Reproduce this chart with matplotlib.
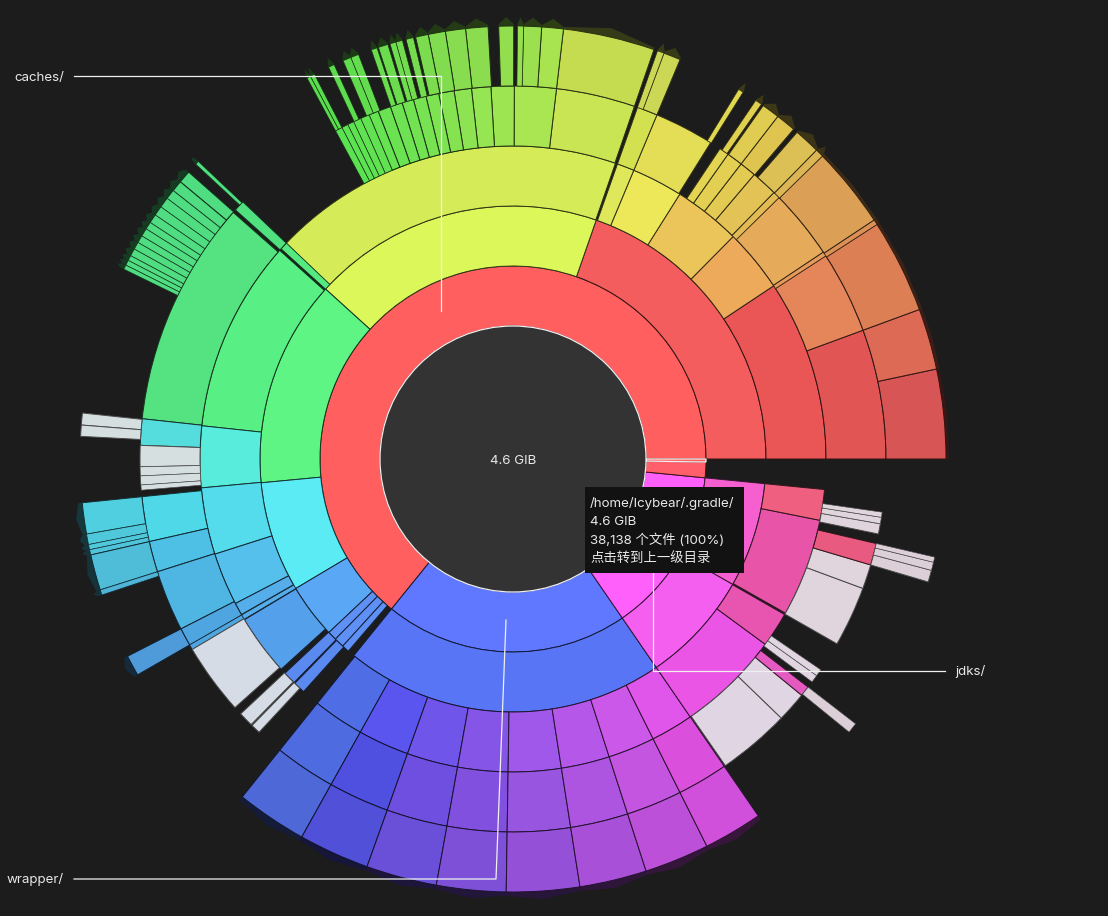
import matplotlib
matplotlib.use("Agg")
import matplotlib.pyplot as plt
from matplotlib.patches import Wedge, Circle, Polygon, Rectangle
from matplotlib.colors import to_rgb
import numpy as np

plt.rcParams['font.family'] = ['Inter', 'Noto Sans CJK SC', 'DejaVu Sans']

# angles, degrees counter clockwise from east
fan_edges = [231.3, 240.8, 250.3, 259.8, 269.1, 278.9, 287.9, 296.6, 304.5]
fan_spans = list(zip(fan_edges[:-1], fan_edges[1:]))

ring_a_spans = [(0, 231), (231, 304.5), (304.5, 354.4), (354.4, 359.1), (359.1, 360)]
ring_a_colors = ["#ff5f5f", "#5f78ff", "#ff5ffb", "#ff5f6a", "#ff5f5f"]

ring_b_spans = [(0, 70.8), (70.8, 137.8), (137.8, 185.4), (185.4, 210.8), (210.8, 223.3),
                (223.3, 225.4), (225.4, 227.7), (227.7, 229.4), (231, 304.5), (304.5, 330.3), (330.3, 354.4)]
ring_b_colors = ["#f35d5d", "#dcf75a", "#5ff585", "#5aebf5", "#5aa8f5",
                 "#5f90f5", "#5f90f5", "#5f90f5", "#5875f5", "#f55ff0", "#f55fd0"]

ring_c_spans = [(0, 33.6), (33.6, 45.3), (45.3, 57.8), (57.8, 67.3), (67.3, 70.5), (70.9, 136.4),
                (136.4, 137.8), (138.2, 173.9), (173.9, 185.3), (185.3, 197.7), (197.7, 207.5),
                (207.5, 209.8), (209.9, 210.8), (210.9, 222.2), (223.2, 225.6), (225.8, 228)] + fan_spans + [
                (304.5, 323.7), (323.7, 330.2), (330.5, 348.7), (348.7, 354.4)]
ring_c_colors = ["#ea5656", "#ecaa5a", "#ebc55a", "#ece85a", "#dfe85a", "#d5ec58",
                 "#55ea80", "#58ef85", "#58ecdc", "#55dcec", "#55c0ec",
                 "#55aeea", "#55aeea", "#55a0ea", "#5a8aef", "#5a8aef",
                 "#4f6ee5", "#5a55ee", "#7055ea", "#8555e8", "#9f58ea", "#b558ea", "#cc58ea", "#e055ea",
                 "#ea55e6", "#e855b0", "#e855a8", "#ef5f80"]

green_d_edges = [83.3, 89.8, 93.4, 96.4, 99.1, 101.5, 103.5, 105.5, 107.3, 109.2, 111.2, 112.7, 114.1, 115.3, 116.3, 117.3, 118.4]
green_d_colors = ["#aae552", "#9ee552", "#96e552", "#8de352", "#85e352", "#7de352", "#78e352", "#72e252",
                  "#6ee252", "#6ae252", "#66e252", "#62e252", "#60e252", "#5ee252", "#5ce252", "#5ae252"]

ring_d_spans = [(0, 20.2), (20.2, 33), (33, 33.7), (33.7, 44.5), (44.5, 45.6), (45.6, 49.7), (49.7, 52.3),
                (52.3, 54.8), (54.8, 56.3), (58, 67.3), (67.3, 70.5), (71, 83.3)] + list(zip(green_d_edges[:-1], green_d_edges[1:])) + [
                (136.4, 138.1), (138.6, 173.8), (173.8, 177.9), (177.9, 181.2), (181.2, 182.6), (182.6, 184),
                (184, 184.8), (185.8, 192.8), (192.8, 197.6), (197.6, 207.1), (207.1, 209.9), (209.9, 210.7),
                (210.7, 221.8), (223.1, 225.4), (225.6, 227.1)] + fan_spans + [
                (304.7, 316), (316, 320.7), (320.7, 322.3), (323.3, 324.5), (324.5, 325.6),
                (330.3, 339.7), (339.7, 343.5), (343.5, 346.9), (348.4, 350), (350, 351), (351, 351.8)]
ring_d_colors = ["#e25555", "#e5855a", "#e59a5a", "#e5aa5a", "#e3bb55", "#e3c355", "#e3ca52",
                 "#e3d052", "#e3d452", "#e3de55", "#d3e050", "#c9e553"] + green_d_colors + [
                 "#50e07f", "#55e280", "#55dcdc", "#d5dfe0", "#d5dfe0", "#d5dfe0",
                 "#d5dfe0", "#4fd8e8", "#4fc0e5", "#4fb5e2", "#4fa5e0", "#4fa5e0",
                 "#d5dce5", "#d5dce5", "#d5dce5",
                 "#4f6be0", "#4f50e0", "#6e4fdf", "#8250df", "#9855e0", "#ad55e0", "#c355e0", "#da50dc",
                 "#e0d5e2", "#e0d5e2", "#e55ac0", "#e0d5e0", "#e0d5e0",
                 "#e0d5dc", "#e0d5dc", "#e85a80", "#e0d5dc", "#e0d5dc", "#e0d5dc"]

green_e_spans = [(83.3, 86.2), (86.2, 88.6), (88.6, 89.4), (89.9, 91.9), (93.3, 96.3), (96.3, 99), (99, 101.3),
                 (101.3, 103), (103.3, 104.3), (104.8, 105.7), (105.7, 106.5), (106.8, 108.1), (108.3, 109.1),
                 (110.9, 112), (112, 113.1), (114.4, 115.2), (117.3, 117.9), (117.9, 118.4)]
green_e_colors = ["#a8e44f", "#9ae04f", "#94e04f", "#92de4f", "#8cdc4f", "#88dc4f", "#82dc4f",
                  "#7cdc4f", "#76dc4f", "#72dc4f", "#70dc4f", "#6cdc4f", "#6adc4f",
                  "#64dc4f", "#62dc4f", "#5edc4f", "#5adc4f", "#5adc4f"]

teal_edges = [138.5, 140.2, 141.7, 143, 144.4, 145.7, 146.9, 147.9, 149, 150, 151, 152, 152.7, 153.4, 154]

ring_e_spans = [(0, 12), (12, 20.2), (20.2, 32.8), (32.8, 33.5), (33.5, 44.4), (44.4, 45.5), (45.5, 49),
                (49.6, 52.3), (52.3, 54.7), (55, 55.9), (57.9, 58.6), (67.3, 69.6), (69.6, 70.5), (71, 83.3)] + green_e_spans + [
                (136.6, 137.1)] + list(zip(teal_edges[:-1], teal_edges[1:])) + [
                (173.9, 175.5), (175.5, 177), (185.8, 190), (190, 191.4), (191.4, 192.1), (192.1, 192.8),
                (192.8, 197.6), (197.6, 198.3), (207.1, 209.9)] + fan_spans + [
                (320.9, 322.3), (343.5, 345.1), (345.1, 346.2), (346.2, 346.9)]
ring_e_colors = ["#d85555", "#dd6a55", "#dd7f55", "#dc9055", "#dba055", "#dcb555", "#dcc055",
                 "#dfc550", "#e0cc50", "#dfd050", "#dfd850", "#ccd855", "#ccd855", "#c5dc50"] + green_e_colors + [
                 "#50e080"] + ["#50dc80"] * (len(teal_edges) - 1) + [
                 "#d5dfe0", "#d5dfe0", "#4fcfdf", "#4fc8dc", "#4fc8dc", "#4fc4da",
                 "#4fbcd8", "#4fb4d8", "#4f9ad8",
                 "#4f68d8", "#5050d8", "#6a50d8", "#7e50d8", "#9550d8", "#a850d8", "#bc50d8", "#d050dc",
                 "#dccfd8", "#dccfd8", "#dccfd8", "#dccfd8"]

tooltip_lines = ["/home/Icybear/.gradle/", "4.6 GIB", "38,138 个文件 (100%)", "点击转到上一级目录"]
guide_labels = ["caches/", "wrapper/", "jdks/"]
total_label = "4.6 GIB"

BG = "#1c1c1c"
CX, CY = 513, 459
ring_width = 60
ring_starts = [133, 193, 253, 313, 373]


def px(x, y):
    return x - CX, CY - y


def darker(color, k):
    return tuple(c * k for c in to_rgb(color))


def draw_ring(ax, spans, colors, r0):
    for (a, b), col in zip(spans, colors, strict=True):
        light = min(to_rgb(col)) > 0.7
        edge = "#4a4a4a" if light else darker(col, 0.22)
        lw = 0.45 if b - a < 1.5 else 0.7
        ax.add_patch(Wedge((0, 0), r0 + ring_width, a, b, width=ring_width, facecolor=col,
                           edgecolor=edge, linewidth=lw, zorder=3))


def draw_shadow(ax, spans, colors, r0):
    # the dark lumps just outside the last ring
    for (a, b), col in zip(spans, colors):
        if min(to_rgb(col)) > 0.7:
            continue
        mid = (a + b) / 2
        if a < 40:
            flat, h = 3, 0.5
        elif a < 120:
            flat, h = 2, 7
        else:
            flat, h = 4, 4
        t = np.radians([a, mid, b])
        r = np.array([r0 + flat, r0 + flat + h, r0 + flat])
        pts = [(r0 * np.cos(t[0]), r0 * np.sin(t[0]))] + list(zip(r * np.cos(t), r * np.sin(t))) + [
            (r0 * np.cos(t[2]), r0 * np.sin(t[2]))]
        ax.add_patch(Polygon(pts, closed=True, facecolor=darker(col, 0.27), edgecolor="none", zorder=2))


fig = plt.figure(figsize=(11.08, 9.16), dpi=100, facecolor=BG)
ax = fig.add_axes([0, 0, 1, 1])
ax.set_xlim(-CX, 1108 - CX)
ax.set_ylim(CY - 916, CY)
ax.axis("off")

draw_shadow(ax, ring_e_spans, ring_e_colors, ring_starts[4] + ring_width)

draw_ring(ax, ring_a_spans[:-1], ring_a_colors[:-1], ring_starts[0])
draw_ring(ax, ring_b_spans, ring_b_colors, ring_starts[1])
draw_ring(ax, ring_c_spans, ring_c_colors, ring_starts[2])
draw_ring(ax, ring_d_spans, ring_d_colors, ring_starts[3])
draw_ring(ax, ring_e_spans, ring_e_colors, ring_starts[4])

# hovered slice has a white outline
a, b = ring_a_spans[-1]
ax.add_patch(Wedge((0, 0), ring_starts[0] + ring_width, a, b, width=ring_width, facecolor=ring_a_colors[-1],
                   edgecolor="#f0f0f0", linewidth=0.9, zorder=4))

ax.add_patch(Circle((0, 0), ring_starts[0], facecolor="#333333", edgecolor="#f0f0f0", linewidth=0.9, zorder=4))
ax.text(0, -1.5, total_label, color="#e8e8e8", fontsize=9.6, ha="center", va="center", zorder=5)

# guide lines
line_kw = dict(color="#f0f0f0", linewidth=0.9, zorder=6)
for path in ([(74, 76), (441, 76), (441, 311)],
             [(74, 879), (496, 879), (506, 620)],
             [(945, 671), (653, 671), (653, 560)]):
    xy = [px(*p) for p in path]
    ax.plot([p[0] for p in xy], [p[1] for p in xy], **line_kw)

for name, pos, ha in zip(guide_labels, [(64, 78), (64, 880), (955, 672)], ["right", "right", "left"]):
    x, y = px(*pos)
    ax.text(x, y, name, color="#e8e8e8", fontsize=9.6, ha=ha, va="center", zorder=6)

# tooltip
x0, y0 = px(585, 573)
ax.add_patch(Rectangle((x0, y0), 159, 86, facecolor="#121212", edgecolor="none", zorder=7))
for i, line in enumerate(tooltip_lines):
    x, y = px(590, 504 + i * 18)
    ax.text(x, y, line, color="#e8e8e8", fontsize=9.6, ha="left", va="center", zorder=8)

fig.savefig("out.png", dpi=100, facecolor=BG)
